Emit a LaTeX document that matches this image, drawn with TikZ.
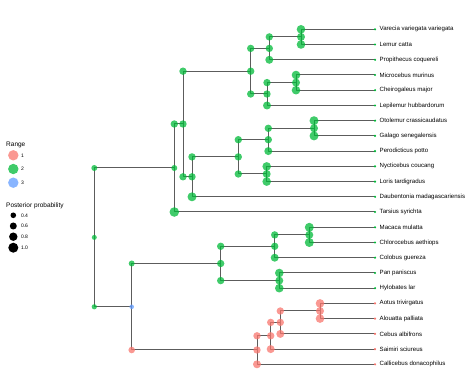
\documentclass[tikz,border=0pt]{standalone}
\usepackage{fontspec}
\setmainfont{Liberation Sans}
\usetikzlibrary{positioning}
\definecolor{rangeone}{HTML}{F8766D}
\definecolor{rangetwo}{HTML}{00BA38}
\definecolor{rangethree}{HTML}{619CFF}
\definecolor{branchgray}{HTML}{5C5C5C}

\begin{document}
\begin{tikzpicture}[x=1pt, y=-1pt, line cap=round, line join=round,
    branch/.style={draw=branchgray, line width=1pt},
    rone/.style={fill=rangeone, fill opacity=0.75},
    rtwo/.style={fill=rangetwo, fill opacity=0.75},
    rthree/.style={fill=rangethree, fill opacity=0.75},
    taxon/.style={anchor=west, inner sep=0pt, font=\fontsize{6.1}{7}\selectfont},
    legtitle/.style={anchor=west, inner sep=0pt, font=\fontsize{6.5}{8}\selectfont},
    legkey/.style={anchor=west, inner sep=0pt, font=\fontsize{5}{6}\selectfont}]
    \useasboundingbox (0,0) rectangle (474,387);

    % tips
    \coordinate (t1) at (375,29.3);
    \coordinate (t2) at (375,44.5);
    \coordinate (t3) at (375,59.8);
    \coordinate (t4) at (375,75.0);
    \coordinate (t5) at (375,90.2);
    \coordinate (t6) at (375,105.5);
    \coordinate (t7) at (375,120.7);
    \coordinate (t8) at (375,135.9);
    \coordinate (t9) at (375,151.1);
    \coordinate (t10) at (375,166.4);
    \coordinate (t11) at (375,181.6);
    \coordinate (t12) at (375,196.8);
    \coordinate (t13) at (375,212.0);
    \coordinate (t14) at (375,227.3);
    \coordinate (t15) at (375,242.5);
    \coordinate (t16) at (375,257.7);
    \coordinate (t17) at (375,273.0);
    \coordinate (t18) at (375,288.2);
    \coordinate (t19) at (375,303.4);
    \coordinate (t20) at (375,318.6);
    \coordinate (t21) at (375,333.9);
    \coordinate (t22) at (375,349.1);
    \coordinate (t23) at (375,364.3);

    % internal nodes
    \coordinate (lemur) at (301,36.9);
    \coordinate (lemurid) at (269.3,48.4);
    \coordinate (cheir) at (296,82.6);
    \coordinate (cheirlep) at (267,94.0);
    \coordinate (lemuriform) at (250.7,71.2);
    \coordinate (galago) at (314,128.3);
    \coordinate (galper) at (268.3,139.7);
    \coordinate (loris) at (266.7,174.0);
    \coordinate (lorisiform) at (238.3,156.9);
    \coordinate (lordaub) at (192,176.8);
    \coordinate (strep) at (183,124.0);
    \coordinate (streptar) at (174.3,168.0);
    \coordinate (cerc) at (309.3,234.9);
    \coordinate (cercol) at (274.7,246.3);
    \coordinate (hom) at (279.3,280.6);
    \coordinate (catar) at (220.7,263.5);
    \coordinate (aotal) at (320,311.0);
    \coordinate (cebaot) at (280.3,322.4);
    \coordinate (saim) at (270.7,335.8);
    \coordinate (platy) at (257,350.0);
    \coordinate (anthro) at (131.7,306.8);
    \coordinate (root) at (94.3,237.4);

    % branches
    \draw[branch] (root) |- (streptar) (root) |- (anthro);
    \draw[branch] (streptar) |- (strep) (streptar) |- (t13);
    \draw[branch] (strep) |- (lemuriform) (strep) |- (lordaub);
    \draw[branch] (lemuriform) |- (lemurid) (lemuriform) |- (cheirlep);
    \draw[branch] (lemurid) |- (lemur) (lemurid) |- (t3);
    \draw[branch] (lemur) |- (t1) (lemur) |- (t2);
    \draw[branch] (cheirlep) |- (cheir) (cheirlep) |- (t6);
    \draw[branch] (cheir) |- (t4) (cheir) |- (t5);
    \draw[branch] (lordaub) |- (lorisiform) (lordaub) |- (t12);
    \draw[branch] (lorisiform) |- (galper) (lorisiform) |- (loris);
    \draw[branch] (galper) |- (galago) (galper) |- (t9);
    \draw[branch] (galago) |- (t7) (galago) |- (t8);
    \draw[branch] (loris) |- (t10) (loris) |- (t11);
    \draw[branch] (anthro) |- (catar) (anthro) |- (platy);
    \draw[branch] (catar) |- (cercol) (catar) |- (hom);
    \draw[branch] (cercol) |- (cerc) (cercol) |- (t16);
    \draw[branch] (cerc) |- (t14) (cerc) |- (t15);
    \draw[branch] (hom) |- (t17) (hom) |- (t18);
    \draw[branch] (platy) |- (saim) (platy) |- (t23);
    \draw[branch] (saim) |- (cebaot) (saim) |- (t22);
    \draw[branch] (cebaot) |- (aotal) (cebaot) |- (t21);
    \draw[branch] (aotal) |- (t19) (aotal) |- (t20);

    % ancestral states: nodes and branch starts
    \fill[rtwo] (root) circle[radius=2.5pt];
    \fill[rtwo] (root |- streptar) circle[radius=3pt];
    \fill[rtwo] (root |- anthro) circle[radius=2.6pt];
    \fill[rtwo] (streptar) circle[radius=3pt];
    \fill[rtwo] (streptar |- strep) circle[radius=3.7pt];
    \fill[rtwo] (streptar |- t13) circle[radius=4.8pt];
    \fill[rtwo] (strep) circle[radius=3.7pt];
    \fill[rtwo] (strep |- lemuriform) circle[radius=3.7pt];
    \fill[rtwo] (strep |- lordaub) circle[radius=3.7pt];
    \fill[rtwo] (lemuriform) circle[radius=3.7pt];
    \fill[rtwo] (lemuriform |- lemurid) circle[radius=3.7pt];
    \fill[rtwo] (lemuriform |- cheirlep) circle[radius=3.7pt];
    \fill[rtwo] (lemurid) circle[radius=3.7pt];
    \fill[rtwo] (lemurid |- lemur) circle[radius=3.7pt];
    \fill[rtwo] (lemurid |- t3) circle[radius=4pt];
    \fill[rtwo] (lemur) circle[radius=4pt];
    \fill[rtwo] (lemur |- t1) circle[radius=4.3pt];
    \fill[rtwo] (lemur |- t2) circle[radius=4.3pt];
    \fill[rtwo] (cheirlep) circle[radius=3.7pt];
    \fill[rtwo] (cheirlep |- cheir) circle[radius=3.7pt];
    \fill[rtwo] (cheirlep |- t6) circle[radius=4pt];
    \fill[rtwo] (cheir) circle[radius=4pt];
    \fill[rtwo] (cheir |- t4) circle[radius=4.3pt];
    \fill[rtwo] (cheir |- t5) circle[radius=4.3pt];
    \fill[rtwo] (lordaub) circle[radius=3.7pt];
    \fill[rtwo] (lordaub |- lorisiform) circle[radius=3.7pt];
    \fill[rtwo] (lordaub |- t12) circle[radius=4.5pt];
    \fill[rtwo] (lorisiform) circle[radius=3.7pt];
    \fill[rtwo] (lorisiform |- galper) circle[radius=3.7pt];
    \fill[rtwo] (lorisiform |- loris) circle[radius=3.7pt];
    \fill[rtwo] (galper) circle[radius=3.7pt];
    \fill[rtwo] (galper |- galago) circle[radius=3.7pt];
    \fill[rtwo] (galper |- t9) circle[radius=4pt];
    \fill[rtwo] (galago) circle[radius=4pt];
    \fill[rtwo] (galago |- t7) circle[radius=4.5pt];
    \fill[rtwo] (galago |- t8) circle[radius=4.5pt];
    \fill[rtwo] (loris) circle[radius=4pt];
    \fill[rtwo] (loris |- t10) circle[radius=4.3pt];
    \fill[rtwo] (loris |- t11) circle[radius=4.3pt];
    \fill[rthree] (anthro) circle[radius=2.3pt];
    \fill[rtwo] (anthro |- catar) circle[radius=3pt];
    \fill[rone] (anthro |- platy) circle[radius=3.3pt];
    \fill[rtwo] (catar) circle[radius=3.7pt];
    \fill[rtwo] (catar |- cercol) circle[radius=3.7pt];
    \fill[rtwo] (catar |- hom) circle[radius=3.7pt];
    \fill[rtwo] (cercol) circle[radius=3.7pt];
    \fill[rtwo] (cercol |- cerc) circle[radius=3.7pt];
    \fill[rtwo] (cercol |- t16) circle[radius=4pt];
    \fill[rtwo] (cerc) circle[radius=4pt];
    \fill[rtwo] (cerc |- t14) circle[radius=4.5pt];
    \fill[rtwo] (cerc |- t15) circle[radius=4.5pt];
    \fill[rtwo] (hom) circle[radius=4pt];
    \fill[rtwo] (hom |- t17) circle[radius=4.3pt];
    \fill[rtwo] (hom |- t18) circle[radius=4.3pt];
    \fill[rone] (platy) circle[radius=3.7pt];
    \fill[rone] (platy |- saim) circle[radius=3.7pt];
    \fill[rone] (platy |- t23) circle[radius=4pt];
    \fill[rone] (saim) circle[radius=3.7pt];
    \fill[rone] (saim |- cebaot) circle[radius=3.7pt];
    \fill[rone] (saim |- t22) circle[radius=4pt];
    \fill[rone] (cebaot) circle[radius=3.7pt];
    \fill[rone] (cebaot |- aotal) circle[radius=3.7pt];
    \fill[rone] (cebaot |- t21) circle[radius=4pt];
    \fill[rone] (aotal) circle[radius=4pt];
    \fill[rone] (aotal |- t19) circle[radius=4.3pt];
    \fill[rone] (aotal |- t20) circle[radius=4.3pt];

    % tip states
    \fill[rangetwo] (t1) circle[radius=1.2pt] (t2) circle[radius=1.2pt] (t3) circle[radius=1.2pt]
        (t4) circle[radius=1.2pt] (t5) circle[radius=1.2pt] (t6) circle[radius=1.2pt]
        (t7) circle[radius=1.2pt] (t8) circle[radius=1.2pt] (t9) circle[radius=1.2pt]
        (t10) circle[radius=1.2pt] (t11) circle[radius=1.2pt] (t12) circle[radius=1.2pt]
        (t13) circle[radius=1.2pt] (t14) circle[radius=1.2pt] (t15) circle[radius=1.2pt]
        (t16) circle[radius=1.2pt] (t17) circle[radius=1.2pt] (t18) circle[radius=1.2pt];
    \fill[rangeone] (t19) circle[radius=1.2pt] (t20) circle[radius=1.2pt] (t21) circle[radius=1.2pt]
        (t22) circle[radius=1.2pt] (t23) circle[radius=1.2pt];

    % tip labels
    \node[taxon, right=4.5pt of t1] (lab1) {Varecia variegata variegata};
    \node[taxon, right=4.5pt of t2] (lab2) {Lemur catta};
    \node[taxon, right=4.5pt of t3] (lab3) {Propithecus coquereli};
    \node[taxon, right=4.5pt of t4] (lab4) {Microcebus murinus};
    \node[taxon, right=4.5pt of t5] (lab5) {Cheirogaleus major};
    \node[taxon, right=4.5pt of t6] (lab6) {Lepilemur hubbardorum};
    \node[taxon, right=4.5pt of t7] (lab7) {Otolemur crassicaudatus};
    \node[taxon, right=4.5pt of t8] (lab8) {Galago senegalensis};
    \node[taxon, right=4.5pt of t9] (lab9) {Perodicticus potto};
    \node[taxon, right=4.5pt of t10] (lab10) {Nycticebus coucang};
    \node[taxon, right=4.5pt of t11] (lab11) {Loris tardigradus};
    \node[taxon, right=4.5pt of t12] (lab12) {Daubentonia madagascariensis};
    \node[taxon, right=4.5pt of t13] (lab13) {Tarsius syrichta};
    \node[taxon, right=4.5pt of t14] (lab14) {Macaca mulatta};
    \node[taxon, right=4.5pt of t15] (lab15) {Chlorocebus aethiops};
    \node[taxon, right=4.5pt of t16] (lab16) {Colobus guereza};
    \node[taxon, right=4.5pt of t17] (lab17) {Pan paniscus};
    \node[taxon, right=4.5pt of t18] (lab18) {Hylobates lar};
    \node[taxon, right=4.5pt of t19] (lab19) {Aotus trivirgatus};
    \node[taxon, right=4.5pt of t20] (lab20) {Alouatta palliata};
    \node[taxon, right=4.5pt of t21] (lab21) {Cebus albifrons};
    \node[taxon, right=4.5pt of t22] (lab22) {Saimiri sciureus};
    \node[taxon, right=4.5pt of t23] (lab23) {Callicebus donacophilus};

    % legend: range
    \node[legtitle] (rangetitle) at (6,144.7) {Range};
    \coordinate (kone) at (13.3,155.3);
    \coordinate (ktwo) at (13.3,169.0);
    \coordinate (kthree) at (13.3,182.7);
    \fill[rone] (kone) circle[radius=5.2pt];
    \fill[rtwo] (ktwo) circle[radius=5.2pt];
    \fill[rthree] (kthree) circle[radius=5.2pt];
    \node[legkey, right=7.5pt of kone] (lone) {1};
    \node[legkey, right=7.5pt of ktwo] (ltwo) {2};
    \node[legkey, right=7.5pt of kthree] (lthree) {3};

    % legend: posterior probability
    \node[legtitle] (pptitle) at (6,206) {Posterior probability};
    \coordinate (pa) at (13.3,215.3);
    \coordinate (pb) at (13.3,226.0);
    \coordinate (pc) at (13.3,236.7);
    \coordinate (pd) at (13.3,247.7);
    \fill (pa) circle[radius=2.8pt];
    \fill (pb) circle[radius=3.5pt];
    \fill (pc) circle[radius=4.2pt];
    \fill (pd) circle[radius=5pt];
    \node[legkey, right=7.5pt of pa] (lpa) {0.4};
    \node[legkey, right=7.5pt of pb] (lpb) {0.6};
    \node[legkey, right=7.5pt of pc] (lpc) {0.8};
    \node[legkey, right=7.5pt of pd] (lpd) {1.0};
\end{tikzpicture}
\end{document}
